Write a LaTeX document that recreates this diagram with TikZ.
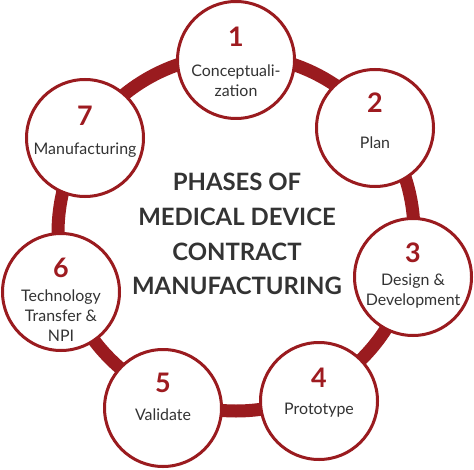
\documentclass[tikz,border=0pt]{standalone}
\usepackage{fontspec}
\setmainfont{Lato}
\definecolor{ringred}{HTML}{9A1B1F}
\definecolor{numred}{HTML}{9E1B20}
\definecolor{txtgray}{HTML}{333333}
\tikzset{
  phase/.style={circle, draw=ringred, line width=3bp, fill=white, minimum size=117bp, inner sep=0pt},
  num/.style={text=numred, font=\fontsize{27}{30}\selectfont\bfseries, inner sep=0pt},
  lbl/.style={text=txtgray, font=\fontsize{16}{20}\selectfont, align=center, inner sep=0pt},
  title/.style={text=txtgray, font=\fontsize{24}{35}\selectfont\bfseries, align=center, inner sep=0pt}
}
\begin{document}
\begin{tikzpicture}[x=1bp,y=-1bp]
\useasboundingbox (0,0) rectangle (474,470);
\coordinate (ringc) at (236,233);
\draw[ringred, line width=13bp] (ringc) circle[radius=178];
\node[phase] (c1) at (236,60) {};
\node[phase] (c2) at (375,128) {};
\node[phase] (c3) at (413,277) {};
\node[phase] (c4) at (319,401) {};
\node[phase] (c5) at (163,408) {};
\node[phase] (c6) at (61,292) {};
\node[phase] (c7) at (85,138) {};
\node[num] (n1) at ([yshift=23bp]c1.center) {1};
\node[num] (n2) at ([yshift=25bp]c2.center) {2};
\node[num] (n3) at ([yshift=24bp]c3.center) {3};
\node[num] (n4) at ([yshift=23bp]c4.center) {4};
\node[num] (n5) at ([yshift=25bp]c5.center) {5};
\node[num] (n6) at ([yshift=24bp]c6.center) {6};
\node[num] (n7) at ([yshift=22bp]c7.center) {7};
\node[lbl] (t1) at ([yshift=-21bp]c1.center) {Conceptuali-\\zation};
\node[lbl] (t2) at ([yshift=-15bp]c2.center) {Plan};
\node[lbl] (t3) at ([yshift=-14bp]c3.center) {Design \&\\Development};
\node[lbl] (t4) at ([yshift=-9bp]c4.center) {Prototype};
\node[lbl] (t5) at ([yshift=-7bp]c5.center) {Validate};
\node[lbl] (t6) at ([yshift=-24bp]c6.center) {Technology\\Transfer \&\\NPI};
\node[lbl] (t7) at ([yshift=-12bp]c7.center) {Manufacturing};
\node[title] (ttl) at (237,234) {PHASES OF\\MEDICAL DEVICE\\CONTRACT\\MANUFACTURING};
\end{tikzpicture}
\end{document}
